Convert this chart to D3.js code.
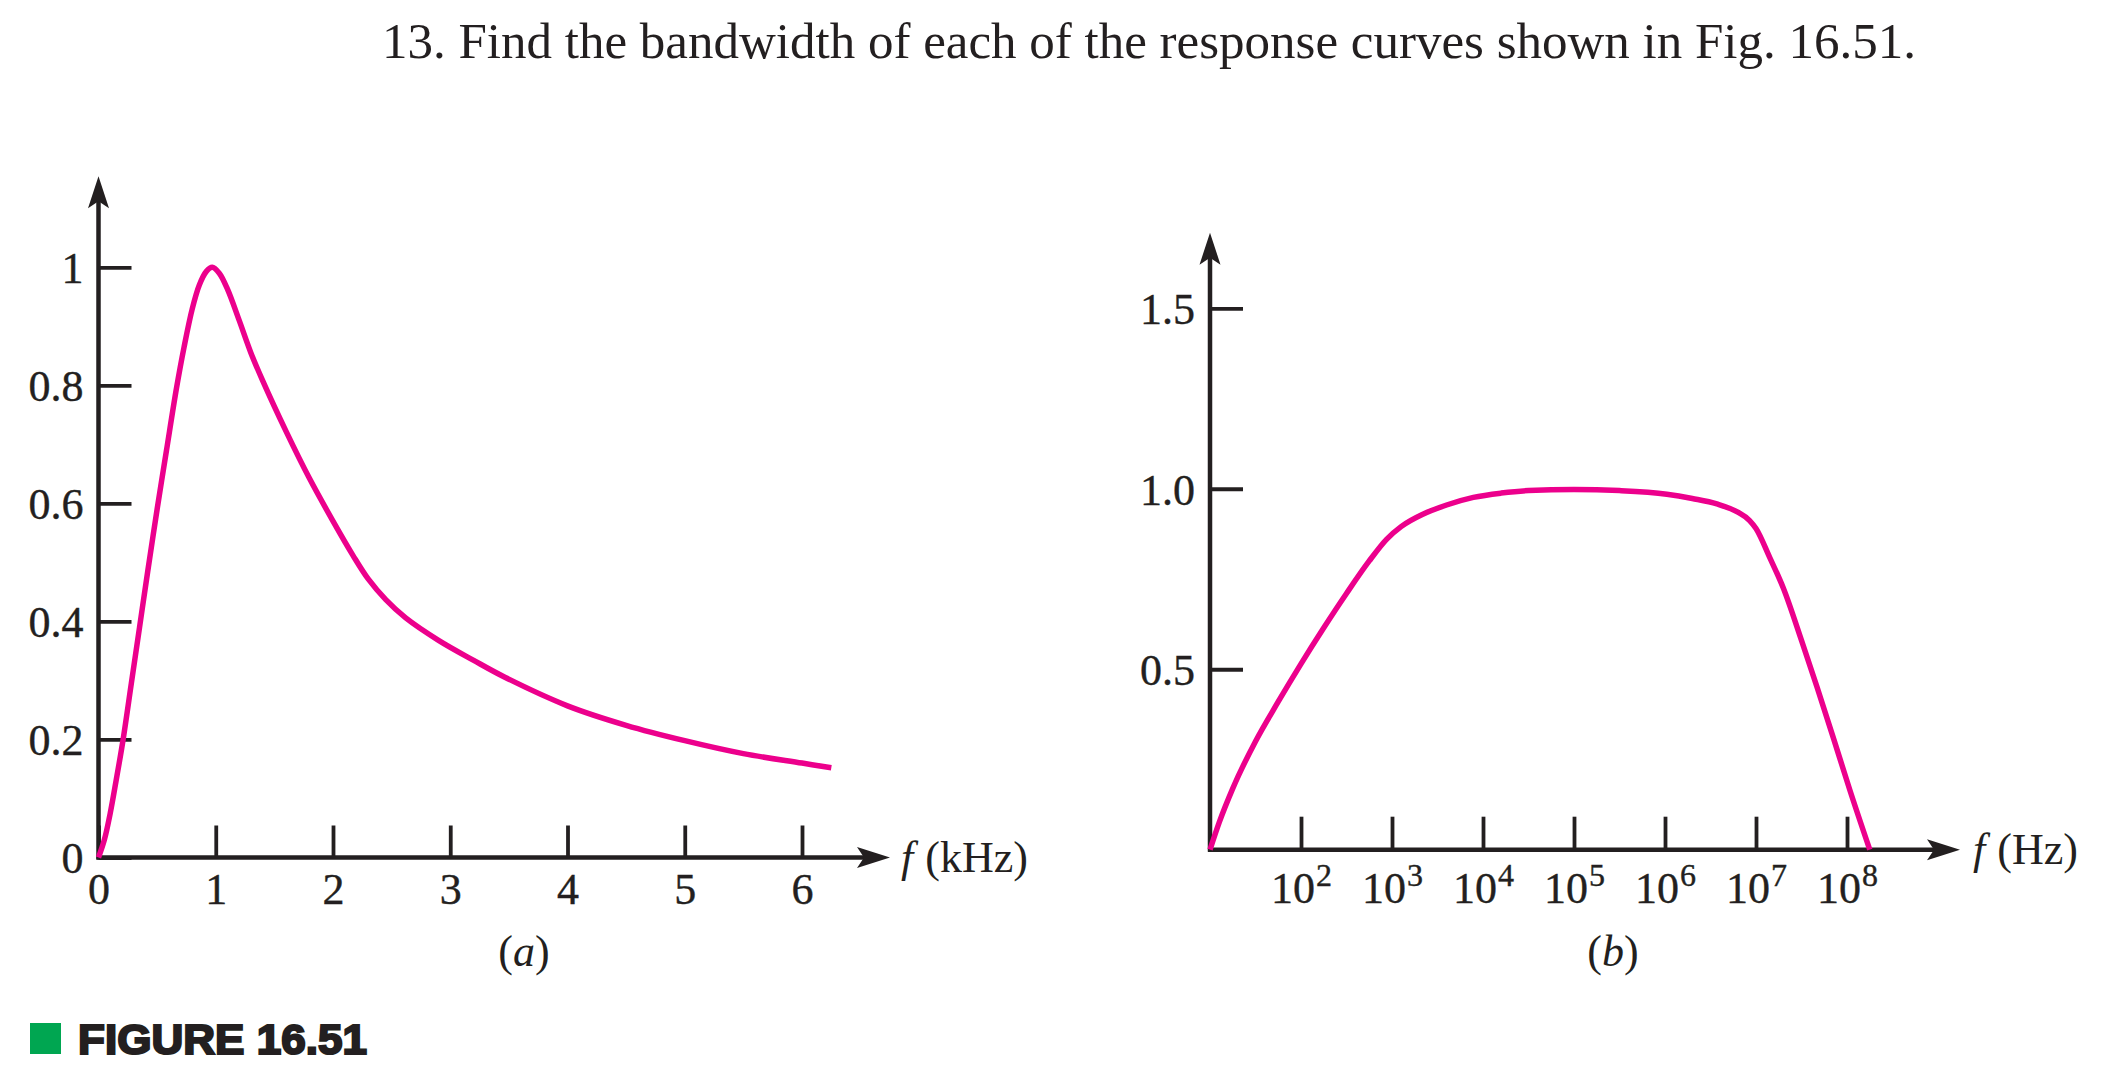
<!DOCTYPE html>
<html lang="en">
<head>
<meta charset="UTF-8">
<title>Figure 16.51</title>
<script src="https://d3js.org/d3.v7.min.js"></script>
<style>
  body { margin: 0; background: #fff; }
  svg text { font-family: "Liberation Serif", "Times New Roman", serif; fill: #231f20; }
</style>
</head>
<body>
<div id="chart"></div>
<script>
// (a) response vs frequency in kHz, linear axis
const freqA = [0, 0.05, 0.1, 0.15, 0.21, 0.28, 0.35, 0.42, 0.5, 0.58, 0.665, 0.73, 0.8, 0.86, 0.92, 0.97,
               1.03, 1.1, 1.2, 1.3, 1.4, 1.6, 1.8, 2.0, 2.17, 2.3, 2.45, 2.62, 2.9, 3.2, 3.47, 4, 4.5, 5, 5.5, 6, 6.25];
const gainA = [0, 0.03, 0.075, 0.13, 0.2, 0.295, 0.39, 0.485, 0.59, 0.69, 0.795, 0.865, 0.93, 0.97, 0.993, 1.0,
               0.99, 0.963, 0.91, 0.855, 0.808, 0.722, 0.642, 0.57, 0.512, 0.472, 0.437, 0.406, 0.368, 0.334, 0.305, 0.257, 0.224, 0.198, 0.176, 0.16, 0.152];
const xTicksA = [0, 1, 2, 3, 4, 5, 6];
const yTicksA = [0, 0.2, 0.4, 0.6, 0.8, 1];

// (b) response vs frequency in Hz, log axis
const freqB = [10, 12.6, 17.8, 31.6, 56.2, 100, 178, 316, 562, 871, 1259, 2213, 3981, 7834, 15850, 31620,
               100000, 316200, 1047000, 1995000, 3715000, 6310000, 8511000, 10000000, 14130000, 19950000,
               31620000, 46770000, 70790000, 107200000, 177800000];
const gainB = [0, 0.075, 0.17, 0.3, 0.41, 0.515, 0.615, 0.71, 0.8, 0.86, 0.895, 0.93, 0.955, 0.976, 0.988, 0.995,
               0.998, 0.995, 0.985, 0.973, 0.958, 0.935, 0.912, 0.89, 0.81, 0.725,
               0.58, 0.451, 0.31, 0.166, 0];
const xTicksB = [1e2, 1e3, 1e4, 1e5, 1e6, 1e7, 1e8];
const xExpB = ["2", "3", "4", "5", "6", "7", "8"];
const yTicksB = [0.5, 1.0, 1.5];
const yLabelsB = ["0.5", "1.0", "1.5"];

const w = 2116, h = 1087;
const ink = "#231f20", magenta = "#ec008c";
const fs = 44;

const svg = d3.select("#chart").append("svg")
    .attr("width", w)
    .attr("height", h);
svg.append("rect").attr("width", w).attr("height", h).attr("fill", "#fff");

svg.append("text")
    .attr("x", 382).attr("y", 58)
    .attr("font-size", 51)
    .text("13. Find the bandwidth of each of the response curves shown in Fig. 16.51.");

function arrowUp(x, y) {
    svg.append("path")
        .attr("d", `M${x},${y} L${x + 10.5},${y + 32} L${x},${y + 25} L${x - 10.5},${y + 32} Z`)
        .attr("fill", ink);
}
function arrowRight(x, y) {
    svg.append("path")
        .attr("d", `M${x},${y} L${x - 33},${y - 10.5} L${x - 26},${y} L${x - 33},${y + 10.5} Z`)
        .attr("fill", ink);
}
function axisLines(x0, y0, yTop, xRight) {
    svg.append("line").attr("x1", x0).attr("x2", x0).attr("y1", y0 + 2).attr("y2", yTop + 20)
        .attr("stroke", ink).attr("stroke-width", 4.5);
    svg.append("line").attr("x1", x0 - 2).attr("x2", xRight - 20).attr("y1", y0).attr("y2", y0)
        .attr("stroke", ink).attr("stroke-width", 4.5);
    arrowUp(x0, yTop);
    arrowRight(xRight, y0);
}
function styleAxis(g) {
    g.select(".domain").remove();
    g.attr("font-family", null).attr("font-size", fs);
    g.selectAll(".tick line").attr("stroke", ink).attr("stroke-width", 3.8);
    g.selectAll(".tick text").attr("fill", ink).attr("stroke", ink).attr("stroke-width", 0.4);
}

// ---------- chart (a)
const xA = d3.scaleLinear().domain([0, 6]).range([98.5, 802]);
const yA = d3.scaleLinear().domain([0, 1]).range([857.5, 267.3]);

axisLines(xA(0), yA(0), yA(1) - 91, xA(6) + 88);

svg.append("g")
    .attr("transform", "translate(" + xA(0) + ",0)")
    .call(d3.axisLeft(yA).tickValues(yTicksA).tickFormat(String)
        .tickSizeInner(-33).tickSizeOuter(0).tickPadding(15))
    .call(styleAxis)
    .selectAll(".tick text").attr("dy", "0.35em");

svg.append("g")
    .attr("transform", "translate(0," + yA(0) + ")")
    .call(d3.axisBottom(xA).tickValues(xTicksA).tickFormat(String)
        .tickSizeInner(-32).tickSizeOuter(0))
    .call(styleAxis)
    .selectAll(".tick text").attr("dy", null).attr("y", 46);

svg.append("path")
    .datum(freqA.map((f, i) => [f, gainA[i]]))
    .attr("fill", "none")
    .attr("stroke", magenta)
    .attr("stroke-width", 5.5)
    .attr("d", d3.line().x(d => xA(d[0])).y(d => yA(d[1])).curve(d3.curveCatmullRom.alpha(0.5)));

const labA = svg.append("text").attr("x", 901).attr("y", yA(0) + 14).attr("font-size", fs);
labA.append("tspan").attr("font-style", "italic").text("f");
labA.append("tspan").attr("dx", 12).text("(kHz)");

const capA = svg.append("text").attr("x", 524).attr("y", 966)
    .attr("font-size", fs).attr("text-anchor", "middle");
capA.append("tspan").text("(");
capA.append("tspan").attr("font-style", "italic").text("a");
capA.append("tspan").text(")");

// ---------- chart (b)
const xB = d3.scaleLog().domain([10, 1e8]).range([1210, 1847]);
const yB = d3.scaleLinear().domain([0, 1.5]).range([849.7, 308.3]);

axisLines(xB(10), yB(0), yB(1.5) - 75.6, xB(1e8) + 113);

svg.append("g")
    .attr("transform", "translate(" + xB(10) + ",0)")
    .call(d3.axisLeft(yB).tickValues(yTicksB).tickFormat((d, i) => yLabelsB[i])
        .tickSizeInner(-33).tickSizeOuter(0).tickPadding(15))
    .call(styleAxis)
    .selectAll(".tick text").attr("dy", "0.35em");

const gxB = svg.append("g")
    .attr("transform", "translate(0," + yB(0) + ")")
    .call(d3.axisBottom(xB).tickValues(xTicksB).tickFormat("")
        .tickSizeInner(-33).tickSizeOuter(0))
    .call(styleAxis);
gxB.selectAll(".tick text").each(function (d, i) {
    const t = d3.select(this).attr("dy", null).attr("y", 53).text("");
    t.append("tspan").text("10");
    t.append("tspan").attr("dx", 1).attr("dy", -17).attr("font-size", 32).text(xExpB[i]);
});

svg.append("path")
    .datum(freqB.map((f, i) => [f, gainB[i]]))
    .attr("fill", "none")
    .attr("stroke", magenta)
    .attr("stroke-width", 5.5)
    .attr("d", d3.line().x(d => xB(d[0])).y(d => yB(d[1])).curve(d3.curveMonotoneX));

const labB = svg.append("text").attr("x", 1973).attr("y", yB(0) + 14).attr("font-size", fs);
labB.append("tspan").attr("font-style", "italic").text("f");
labB.append("tspan").attr("dx", 12).text("(Hz)");

const capB = svg.append("text").attr("x", 1613).attr("y", 966)
    .attr("font-size", fs).attr("text-anchor", "middle");
capB.append("tspan").text("(");
capB.append("tspan").attr("font-style", "italic").text("b");
capB.append("tspan").text(")");

// ---------- figure tag
svg.append("rect").attr("x", 30).attr("y", 1023).attr("width", 31).attr("height", 31).attr("fill", "#00a651");
svg.append("text")
    .attr("x", 78).attr("y", 1054)
    .attr("font-size", 43)
    .attr("font-weight", 700)
    .style("font-family", '"Liberation Sans Narrow", "Liberation Sans", Arial, sans-serif')
    .attr("textLength", 289)
    .attr("lengthAdjust", "spacingAndGlyphs")
    .attr("stroke", ink).attr("stroke-width", 2.2)
    .text("FIGURE 16.51");
</script>
</body>
</html>
